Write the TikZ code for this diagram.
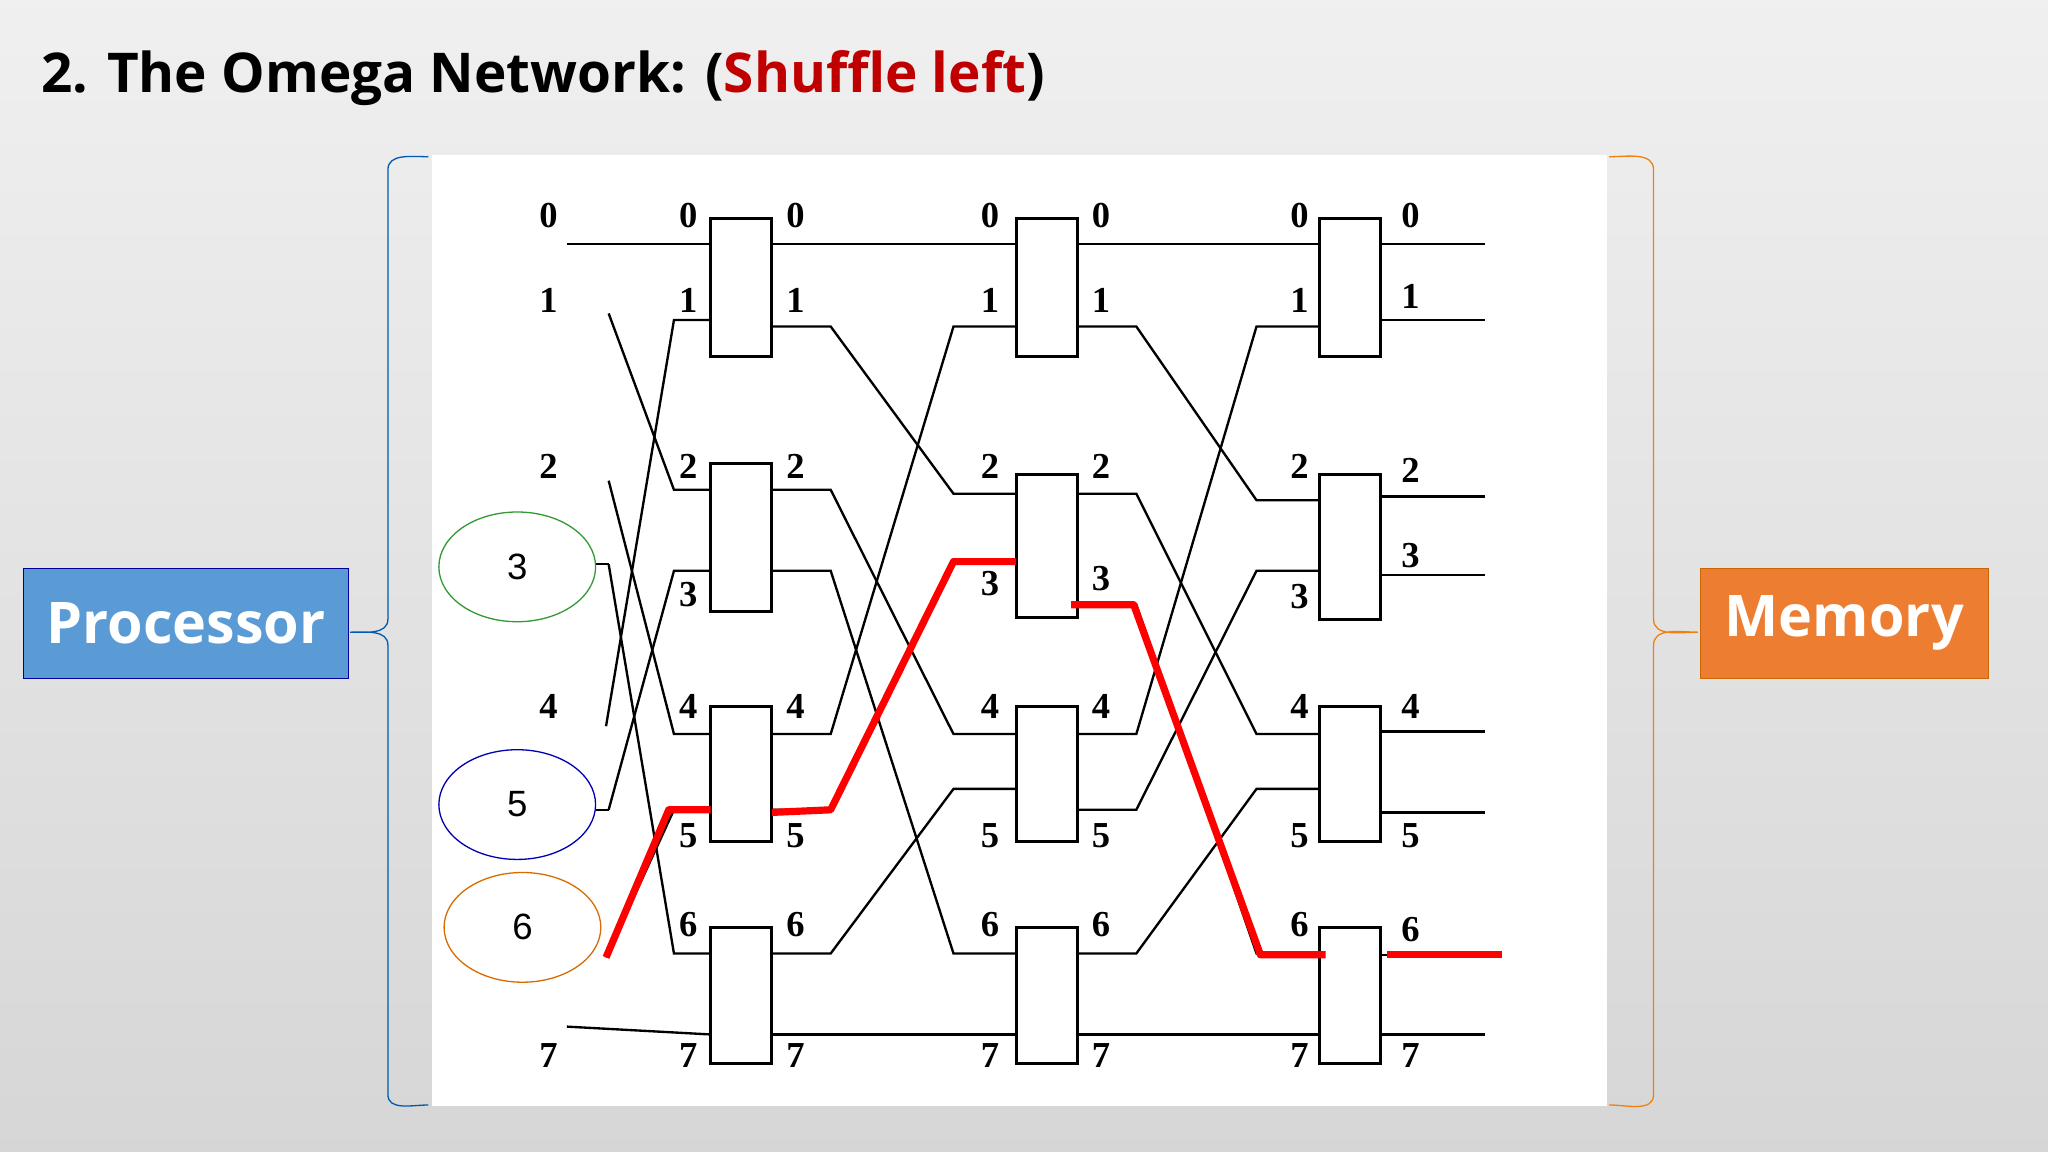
\documentclass[tikz,border=0pt]{standalone}
\usepackage{fontspec}
\usetikzlibrary{shapes.geometric}
\setmainfont{Liberation Serif}
\newfontfamily\ttl{Open Sans}
\newfontfamily\ars{Liberation Sans}
\definecolor{dred}{HTML}{C00000}
\begin{document}
\begin{tikzpicture}[x=1pt,y=-1pt,
  wire/.style={line width=1.8pt,black},
  sw/.style={draw,line width=2.4pt,fill=white},
  num/.style={font=\fontsize{28}{28}\selectfont\bfseries},
  hot/.style={red,line width=5.5pt,line join=round}]
\shade[top color=gray!12,bottom color=gray!32] (0,0) rectangle (1568,882);
\useasboundingbox (0,0) rectangle (1568,882);
\fill[white] (331,119) rectangle (1230,847);
\node[anchor=west,font=\ttl\fontsize{42}{42}\selectfont\bfseries] (title) at (28,60) {2. The Omega Network: (\textcolor{dred}{Shuffle left})};
% braces
\draw[blue!50!cyan!70!black,line width=1pt] (328,120) to[out=180,in=90] (297,130) -- (297,474) to[out=-90,in=0] (268,484) coordinate (pt) (268,484) to[out=0,in=90] (297,494) -- (297,838) to[out=-90,in=180] (328,846);
\draw[orange!80!brown,line width=1pt] (1232,120) to[out=0,in=90] (1266,130) -- (1266,474) to[out=-90,in=180] (1300,484) (1300,484) to[out=180,in=90] (1266,494) -- (1266,838) to[out=-90,in=0] (1232,846);
\node[draw=blue!60!black,fill={rgb,255:red,91;green,155;blue,213},minimum width=249pt,minimum height=84pt,text=white,font=\ttl\fontsize{44}{44}\selectfont\bfseries] (proc) at (142.5,477) {Processor};
\node[draw=orange!80!black,fill={rgb,255:red,237;green,125;blue,49},minimum width=220pt,minimum height=84pt,text=white,font=\ttl\fontsize{44}{44}\selectfont\bfseries] (mem) at (1412,477) {Memory};
% input wires
\def\inw#1#2#3{\draw[wire] (#1,#2) -- (516,#3) -- (544,#3);}
\draw[wire] (434,187) -- (544,187);
\inw{466}{240}{375}
\inw{466}{368}{562}
\draw[wire] (456,432) -- (466,432); \inw{466}{432}{730}
\inw{464}{556}{245}
\draw[wire] (456,620) -- (466,620); \inw{466}{620}{437}
\inw{464}{733}{620}
\draw[wire] (434,786) -- (544,792);
% stage connections
\def\cn#1#2#3#4{\draw[wire] (#1,#2) -- ++(45,0) -- (#3-48,#4) -- (#3,#4);}
\draw[wire] (591,187) -- (778,187); \draw[wire] (591,792) -- (778,792);
\cn{591}{250}{778}{378} \cn{591}{375}{778}{562} \cn{591}{437}{778}{730}
\cn{591}{562}{778}{250} \cn{591}{620}{778}{430} \cn{591}{730}{778}{604}
\draw[wire] (825,187) -- (1010,187); \draw[wire] (825,792) -- (1010,792);
\cn{825}{250}{1010}{383} \cn{825}{378}{1010}{562} \cn{825}{463}{1010}{730}
\cn{825}{562}{1010}{250} \cn{825}{620}{1010}{437} \cn{825}{730}{1010}{604}
\foreach \y in {187,245,380,440,560,622,731,792} \draw[wire] (1058,\y) -- (1137,\y);
% boxes
\foreach \x/\n in {544/a,778/b,1010/c}{
  \draw[sw] (\x,167) rectangle ++(47,106);
  \draw[sw] (\x,541) rectangle ++(47,103);
  \draw[sw] (\x,710) rectangle ++(47,104);}
\draw[sw] (544,355) rectangle ++(47,113);
\draw[sw] (778,363) rectangle ++(47,110);
\draw[sw] (1010,363) rectangle ++(47,111);
% labels
\foreach \t/\y in {0/165,1/230,2/357,4/541,7/808} \node[num] at (420,\y) {\t};
\foreach \t/\y in {0/165,1/230,2/357,3/455,4/541,5/640,6/708,7/808} \node[num] at (527,\y) {\t};
\foreach \t/\y in {0/165,1/230,2/357,4/541,5/640,6/708,7/808} \node[num] at (609,\y) {\t};
\foreach \t/\y in {0/165,1/230,2/357,3/447,4/541,5/640,6/708,7/808} \node[num] at (758,\y) {\t};
\foreach \t/\y in {0/165,1/230,2/357,3/443,4/541,5/640,6/708,7/808} \node[num] at (843,\y) {\t};
\foreach \t/\y in {0/165,1/230,2/357,3/457,4/541,5/640,6/708,7/808} \node[num] at (995,\y) {\t};
\foreach \t/\y in {0/165,1/227,2/360,3/425,4/541,5/640,6/712,7/808} \node[num] at (1080,\y) {\t};
% ellipses
\node[draw=green!50!black!80,line width=1pt,ellipse,minimum width=120pt,minimum height=84pt,font=\ars\fontsize{28}{28}\selectfont] (p3) at (396,434) {3};
\node[draw=blue!70!black,line width=1pt,ellipse,minimum width=120pt,minimum height=84pt,font=\ars\fontsize{28}{28}\selectfont] (p5) at (396,616) {5};
\node[draw=orange!85!black,line width=1pt,ellipse,minimum width=120pt,minimum height=84pt,font=\ars\fontsize{28}{28}\selectfont] (p6) at (400,710) {6};
% red path
\draw[hot] (464,733) -- (512,620) -- (544,620);
\draw[hot] (591,622) -- (636,620) -- (730,430) -- (778,430);
\draw[hot] (820,463) -- (868,463) -- (965,731) -- (1015,731);
\draw[hot] (1062,731) -- (1150,731);
\end{tikzpicture}
\end{document}
